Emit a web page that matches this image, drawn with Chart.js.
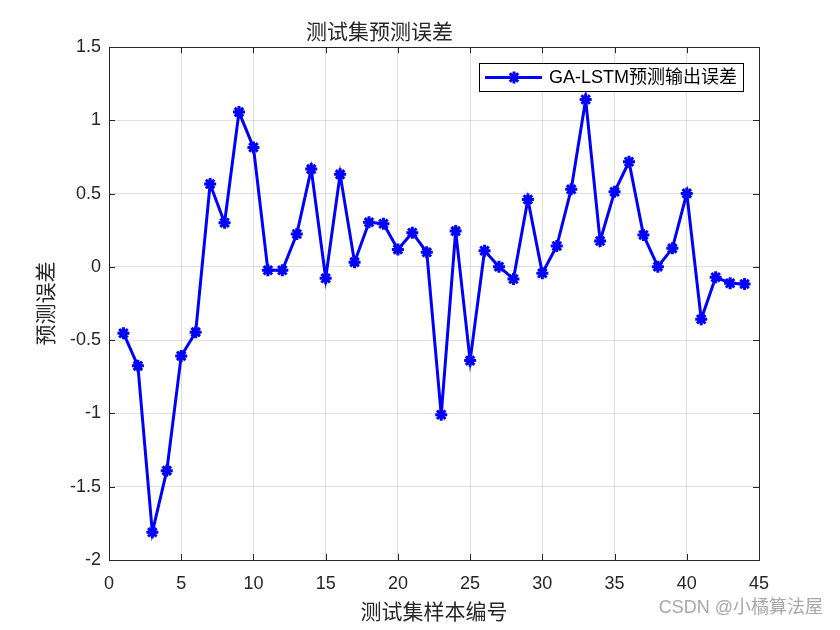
<!DOCTYPE html>
<html>
<head>
<meta charset="utf-8">
<script src="https://cdn.jsdelivr.net/npm/chart.js@4"></script>
<style>
html,body{margin:0;padding:0;background:#fff;}
#wrap{width:840px;height:630px;position:relative;}
</style>
</head>
<body>
<div id="wrap"><canvas id="c" width="840" height="630"></canvas></div>
<script>
const sampleIndex = [1,2,3,4,5,6,7,8,9,10,11,12,13,14,15,16,17,18,19,20,21,22,23,24,25,26,27,28,29,30,31,32,33,34,35,36,37,38,39,40,41,42,43,44];
const errorValues = [-0.452,-0.675,-1.811,-1.39,-0.607,-0.445,0.566,0.302,1.057,0.816,-0.022,-0.022,0.225,0.668,-0.077,0.632,0.033,0.305,0.295,0.12,0.234,0.1,-1.009,0.245,-0.639,0.111,0.002,-0.082,0.461,-0.043,0.143,0.53,1.143,0.177,0.513,0.718,0.218,0.002,0.127,0.502,-0.357,-0.07,-0.111,-0.116];
const xTicks = [0,5,10,15,20,25,30,35,40,45];
const yTicks = [-2,-1.5,-1,-0.5,0,0.5,1,1.5];
const seriesName = 'GA-LSTM预测输出误差';
const chartTitle = '测试集预测误差';
const xTitle = '测试集样本编号';
const yTitle = '预测误差';
const watermark = 'CSDN @小橘算法屋';

const BLUE = '#0000ff';
const AXIS = '#262626';
const CJK = '"Noto Sans CJK SC", sans-serif';
const LAT = '"Liberation Sans", Arial, sans-serif';

const boxPlugin = {
  id: 'boxPlugin',
  afterDraw(chart) {
    const {ctx, chartArea: a, scales} = chart;
    ctx.save();
    ctx.strokeStyle = AXIS;
    ctx.lineWidth = 1;
    ctx.beginPath();
    xTicks.forEach(v => {
      const x = Math.round(scales.x.getPixelForValue(v)) + 0.5;
      ctx.moveTo(x, a.bottom); ctx.lineTo(x, a.bottom - 6);
      ctx.moveTo(x, a.top); ctx.lineTo(x, a.top + 6);
    });
    yTicks.forEach(v => {
      const y = Math.round(scales.y.getPixelForValue(v)) + 0.5;
      ctx.moveTo(a.left, y); ctx.lineTo(a.left + 6, y);
      ctx.moveTo(a.right, y); ctx.lineTo(a.right - 6, y);
    });
    ctx.stroke();
    ctx.strokeRect(Math.round(a.left) + 0.5, Math.round(a.top) + 0.5, Math.round(a.right - a.left), Math.round(a.bottom - a.top));
    // legend
    const lx = 479, ly = 63, lw = 264, lh = 28;
    ctx.fillStyle = '#fff';
    ctx.fillRect(lx, ly, lw, lh);
    ctx.strokeStyle = '#000';
    ctx.strokeRect(lx + 0.5, ly + 0.5, lw, lh);
    ctx.strokeStyle = BLUE;
    ctx.lineWidth = 3;
    ctx.beginPath();
    ctx.moveTo(485, ly + lh / 2 + 0.5);
    ctx.lineTo(542, ly + lh / 2 + 0.5);
    ctx.stroke();
    Chart.helpers.drawPoint(ctx, {pointStyle: 'star', radius: 6, borderWidth: 3}, 514, ly + lh / 2 + 0.5);
    ctx.fillStyle = '#000';
    ctx.font = '18px "Liberation Sans", "Noto Sans CJK SC", sans-serif';
    ctx.textBaseline = 'middle';
    ctx.textAlign = 'left';
    ctx.fillText(seriesName, 549, ly + lh / 2 + 1);
    // watermark
    ctx.fillStyle = '#a8a8a8';
    ctx.font = '18px "Liberation Sans", "Noto Sans CJK SC", sans-serif';
    ctx.textAlign = 'right';
    ctx.fillText(watermark, 823, 608);
    ctx.restore();
  }
};

new Chart(document.getElementById('c'), {
  type: 'line',
  data: {
    labels: sampleIndex,
    datasets: [{
      label: seriesName,
      data: sampleIndex.map((x, i) => ({x: x, y: errorValues[i]})),
      borderColor: BLUE,
      backgroundColor: BLUE,
      borderWidth: 3,
      pointStyle: 'star',
      pointRadius: 6,
      pointBorderWidth: 3,
      pointBorderColor: BLUE,
      pointBackgroundColor: BLUE,
      tension: 0,
      fill: false
    }]
  },
  options: {
    responsive: false,
    animation: false,
    devicePixelRatio: 1,
    layout: {padding: {left: 0, right: 81, top: 0, bottom: 0}},
    plugins: {
      legend: {display: false},
      tooltip: {enabled: false},
      title: {
        display: true,
        text: chartTitle,
        color: AXIS,
        font: {family: CJK, size: 21, weight: 'normal', lineHeight: 1.2},
        padding: {top: 18, bottom: 4}
      }
    },
    scales: {
      x: {
        type: 'linear',
        min: 0, max: 45,
        afterBuildTicks(s) { s.ticks = xTicks.map(v => ({value: v})); },
        afterFit(s) { s.height = 70; },
        ticks: {color: AXIS, font: {family: LAT, size: 18}, padding: 13, maxRotation: 0, callback: v => String(v)},
        grid: {color: 'rgba(38,38,38,0.15)', drawTicks: false},
        border: {display: false},
        title: {display: true, text: xTitle, color: AXIS, font: {family: CJK, size: 21}, padding: {top: 0, bottom: 6}}
      },
      y: {
        type: 'linear',
        min: -2, max: 1.5,
        afterBuildTicks(s) { s.ticks = yTicks.map(v => ({value: v})); },
        afterFit(s) { s.width = 109; },
        ticks: {color: AXIS, font: {family: LAT, size: 18}, padding: 8, callback: v => String(v)},
        grid: {color: 'rgba(38,38,38,0.15)', drawTicks: false},
        border: {display: false},
        title: {display: true, text: yTitle, color: AXIS, font: {family: CJK, size: 21}, padding: {top: 32, bottom: 8}}
      }
    }
  },
  plugins: [boxPlugin]
});
</script>
</body>
</html>
